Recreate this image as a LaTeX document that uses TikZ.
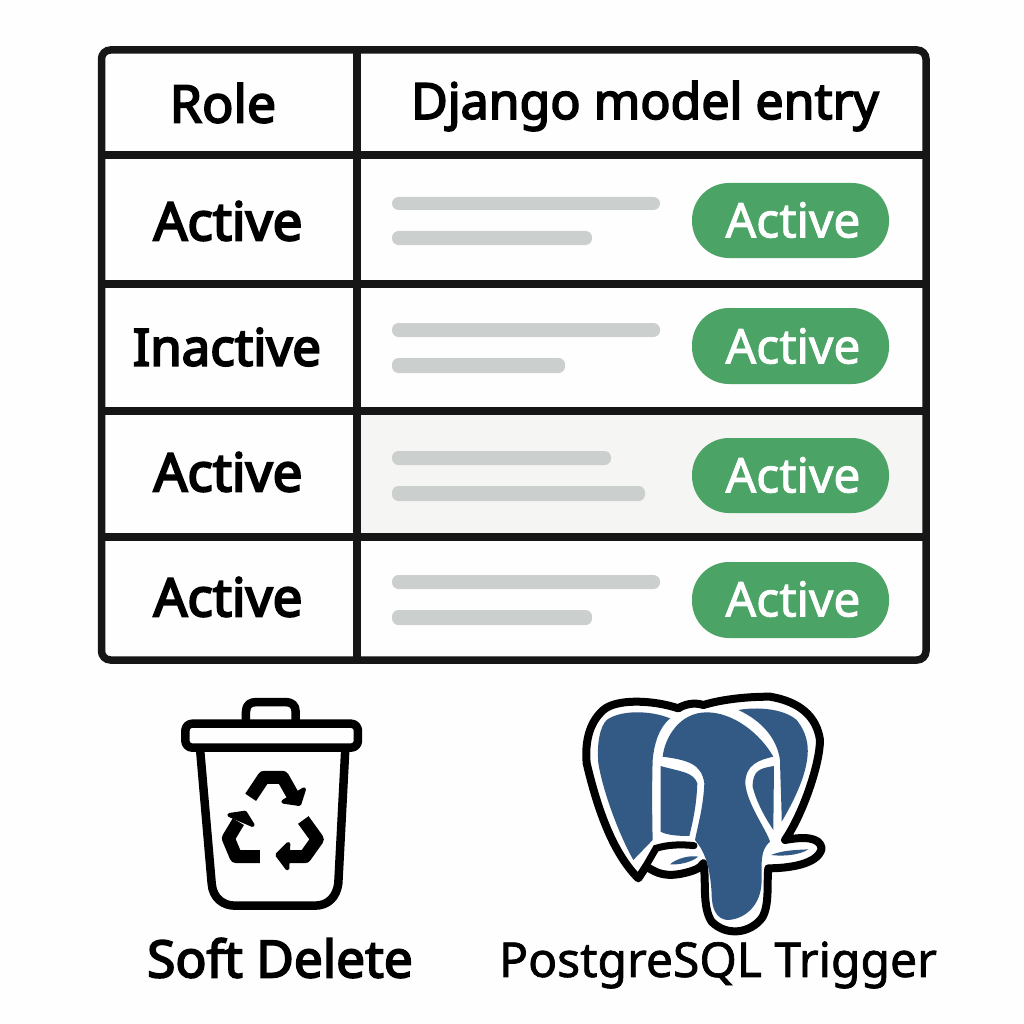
\documentclass[tikz,border=0pt]{standalone}
\usepackage{fontspec}
\setmainfont{Noto Sans}
\newcommand\medtxt[2][0.8]{\special{pdf:code 2 Tr #1 w}#2\special{pdf:code 0 Tr}}
\definecolor{ink}{HTML}{161616}
\definecolor{pagebg}{HTML}{FEFEFE}
\definecolor{rowgray}{HTML}{F5F5F3}
\definecolor{barg}{HTML}{CBCFCD}
\definecolor{pill}{HTML}{4BA365}
\definecolor{pgblue}{HTML}{335A85}
\tikzset{
  grid/.style={draw=ink,line width=7.5pt},
  bar/.style={fill=barg,rounded corners=6.5pt},
  pillbox/.style={fill=pill,rounded corners=37pt},
  pilltext/.style={text=white,font=\fontsize{48}{48}\selectfont,inner sep=0pt},
  celltext/.style={text=black,font=\fontsize{53}{53}\selectfont,inner sep=0pt},
  inacttext/.style={text=black,font=\fontsize{51}{51}\selectfont,inner sep=0pt},
  headtext/.style={text=black,font=\fontsize{50}{50}\selectfont,inner sep=0pt},
  roletext/.style={text=black,font=\fontsize{52}{52}\selectfont,inner sep=0pt},
  captext/.style={text=black,inner sep=0pt},
  bin/.style={draw=black,line width=8.5pt,line join=round},
  recy/.style={draw=black,line width=13pt,line join=round},
  recyhead/.style={fill=black,draw=black,line width=4pt,line join=round},
  pgpart/.style={fill=pgblue}
}
\begin{document}
\begin{tikzpicture}[x=1pt,y=-1pt]
\useasboundingbox (0,0) rectangle (1024,1024);
\fill[pagebg] (0,0) rectangle (1024,1024);
% table
\fill[rowgray] (360,415) rectangle (923,534);
\draw[grid] (357,50) -- (357,660);
\draw[grid] (102,155) -- (926,155);
\draw[grid] (102,284) -- (926,284);
\draw[grid] (102,411) -- (926,411);
\draw[grid] (102,537) -- (926,537);
\draw[grid,rounded corners=9pt] (101.5,50) rectangle (926,660);
% bars
\fill[bar] (392,197) rectangle (660,210);
\fill[bar] (392,231) rectangle (592,245);
\fill[bar] (392,323) rectangle (660,337);
\fill[bar] (392,358) rectangle (565,373);
\fill[bar] (392,451) rectangle (611,465);
\fill[bar] (392,486) rectangle (645,501);
\fill[bar] (392,575) rectangle (660,589);
\fill[bar] (392,610) rectangle (592,625);
% pills
\fill[pillbox] (692,183) rectangle (889,258);
\fill[pillbox] (692,308) rectangle (889,384);
\fill[pillbox] (692,438) rectangle (889,513);
\fill[pillbox] (692,562) rectangle (889,638);
\node[pilltext] (p1) at (793,220) {\medtxt[0.9]{Active}};
\node[pilltext] (p2) at (793,346) {\medtxt[0.9]{Active}};
\node[pilltext] (p3) at (793,475) {\medtxt[0.9]{Active}};
\node[pilltext] (p4) at (793,599) {\medtxt[0.9]{Active}};
% cell text
\node[roletext] (h1) at (223,103) {\medtxt[1.7]{Role}};
\node[headtext] (h2) at (645,106) {\medtxt[1.7]{Django model entry}};
\node[celltext] (r1) at (228,221) {\medtxt[2]{Active}};
\node[inacttext] (r2) at (227,347) {\medtxt[2]{Inactive}};
\node[celltext] (r3) at (228,472) {\medtxt[2]{Active}};
\node[celltext] (r4) at (228,597) {\medtxt[2]{Active}};
% bin
\begin{scope}[shift={(160,680)},x=0.3333pt,y=-0.3333pt]
  \draw[bin] (258,125) -- (258,95) .. controls (258,75) and (270,66) .. (290,66) -- (375,66) .. controls (395,66) and (407,75) .. (407,95) -- (407,125);
  \draw[bin,rounded corners=7pt] (76,131) rectangle (594,203);
  \draw[bin] (120,205) -- (155,610) .. controls (158,655) and (190,677) .. (225,677) -- (465,677) .. controls (505,677) and (530,650) .. (535,610) -- (556,205);
  \draw[recy] (272,352) -- (312,292) -- (368,292) -- (398,345);
  \fill[recyhead] (370,365) -- (418,372) -- (432,328) -- cycle;
  \draw[recy] (300,530) -- (228,530) -- (205,475) -- (235,425);
  \fill[recyhead] (208,405) -- (255,398) -- (278,435) -- cycle;
  \draw[recy] (430,420) -- (472,478) -- (435,530) -- (380,530);
  \fill[recyhead] (385,492) -- (352,525) -- (382,565) -- cycle;
\end{scope}
% elephant
\begin{scope}[shift={(570,680)},x=0.3333pt,y=-0.3333pt]
  \draw[draw=black,line width=8pt,fill=white,line join=round]
    (325,85) .. controls (250,60) and (140,55) .. (100,90)
    .. controls (55,130) and (45,190) .. (50,250)
    .. controls (90,420) and (140,530) .. (205,595)
    -- (228,560) .. controls (250,570) and (270,592) .. (330,582)
    .. controls (370,574) and (392,565) .. (400,550)
    .. controls (410,600) and (395,680) .. (425,725)
    .. controls (470,770) and (540,760) .. (575,715)
    .. controls (600,680) and (590,600) .. (595,565)
    .. controls (650,565) and (745,555) .. (755,505)
    .. controls (750,470) and (700,470) .. (645,480)
    .. controls (700,400) and (750,250) .. (750,180)
    .. controls (740,110) and (690,65) .. (600,50)
    .. controls (520,50) and (450,60) .. (400,75)
    .. controls (370,65) and (340,75) .. (325,85) -- cycle;
  \draw[draw=black,line width=7pt,line cap=round] (215,580) -- (258,505) .. controls (290,495) and (330,492) .. (372,497);
  \fill[pgpart] (300,115) .. controls (240,90) and (150,90) .. (110,120)
    .. controls (90,140) and (80,190) .. (85,250)
    .. controls (100,340) and (150,470) .. (190,540)
    -- (248,480) .. controls (246,400) and (246,300) .. (248,240)
    .. controls (252,195) and (265,145) .. (300,115) -- cycle;
  \fill[pgpart] (278,230) .. controls (285,170) and (330,97) .. (410,97)
    .. controls (490,97) and (570,160) .. (610,230)
    .. controls (565,240) and (526,255) .. (526,310)
    .. controls (530,370) and (590,450) .. (600,485)
    .. controls (570,510) and (575,550) .. (575,600)
    .. controls (575,680) and (520,720) .. (470,720)
    .. controls (440,715) and (425,690) .. (425,640)
    .. controls (420,560) and (405,515) .. (375,480)
    .. controls (385,430) and (400,380) .. (403,310)
    .. controls (395,250) and (350,240) .. (278,230) -- cycle;
  \fill[pgpart] (505,90) .. controls (560,80) and (640,85) .. (680,120)
    .. controls (720,170) and (718,220) .. (705,270)
    .. controls (690,330) and (650,400) .. (635,425)
    .. controls (635,380) and (632,330) .. (630,240)
    .. controls (620,170) and (570,120) .. (505,90) -- cycle;
  \fill[pgpart] (272,258) .. controls (330,275) and (370,275) .. (382,310)
    .. controls (380,370) and (370,420) .. (358,468)
    .. controls (320,468) and (290,465) .. (272,455) -- cycle;
  \fill[pgpart] (612,258) .. controls (570,265) and (548,270) .. (548,320)
    .. controls (560,370) and (590,420) .. (610,450) -- cycle;
  \fill[pgpart] (300,553) .. controls (320,535) and (360,525) .. (385,530)
    .. controls (360,550) and (320,555) .. (300,553) -- cycle;
  \fill[pgpart] (603,525) .. controls (640,510) and (680,510) .. (715,508)
    .. controls (690,525) and (640,530) .. (603,525) -- cycle;
\end{scope}
% captions
\node[captext,font=\fontsize{51.5}{51.5}\selectfont] (c1) at (280,958) {\medtxt[1.7]{Soft Delete}};
\node[captext,font=\fontsize{48}{48}\selectfont] (c2) at (718,965) {\medtxt[0.7]{PostgreSQL Trigger}};
\end{tikzpicture}
\end{document}
